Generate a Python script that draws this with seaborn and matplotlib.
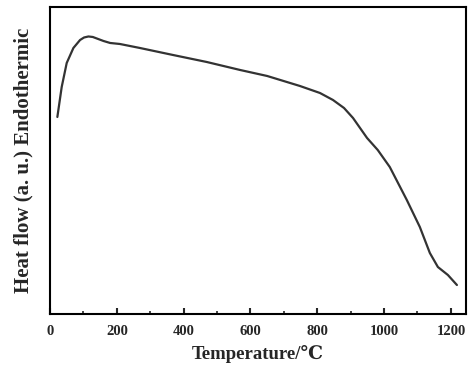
import numpy as np
import pandas as pd
import matplotlib.pyplot as plt
import seaborn as sns
from matplotlib.ticker import MultipleLocator

sns.set_style("ticks")
plt.rcParams['font.family'] = ['Liberation Serif', 'DejaVu Serif']
plt.rcParams['font.weight'] = 'bold'

#Datos
temperatura = [22, 35, 50, 70, 90, 102, 115, 128, 140, 160, 180, 209, 269,
               368, 469, 569, 650, 748, 808, 847, 880, 907, 949, 981, 1017,
               1068, 1107, 1137, 1161, 1191, 1218]
flujo = [197, 227, 251, 266, 274, 276.5, 277.5, 277, 275.5, 273, 271, 270, 266,
         259, 252, 244, 238, 228, 221, 214, 206, 196, 176, 164, 147,
         114, 87, 61, 47, 39, 29]

df = pd.DataFrame({'T': temperatura, 'Q': flujo})

fig = plt.figure(figsize=(4.74, 3.67), dpi=100)
ax = fig.add_axes([0.1055, 0.1444, 0.8775, 0.8366])

sns.lineplot(data=df, x='T', y='Q', ax=ax, color='#333333', linewidth=1.6)

ax.set_xlim(0, 1245)
ax.set_ylim(0, 307)
ax.xaxis.set_major_locator(MultipleLocator(200))
ax.xaxis.set_minor_locator(MultipleLocator(100))
ax.tick_params(axis='x', which='major', direction='in', length=4, width=1.5,
               labelsize=10.5, pad=8)
ax.tick_params(axis='x', which='minor', direction='in', length=2.5, width=1.2)
ax.set_yticks([])
for lab in ax.get_xticklabels():
    lab.set_fontweight('bold')
for s in ax.spines.values():
    s.set_linewidth(1.5)
    s.set_color('black')

ax.set_xlabel('Temperature/℃', fontsize=13.5, fontweight='bold', labelpad=5)
ax.set_ylabel('Heat flow (a. u.) Endothermic', fontsize=15, fontweight='bold', labelpad=12)

fig.savefig('out.png', dpi=100)
